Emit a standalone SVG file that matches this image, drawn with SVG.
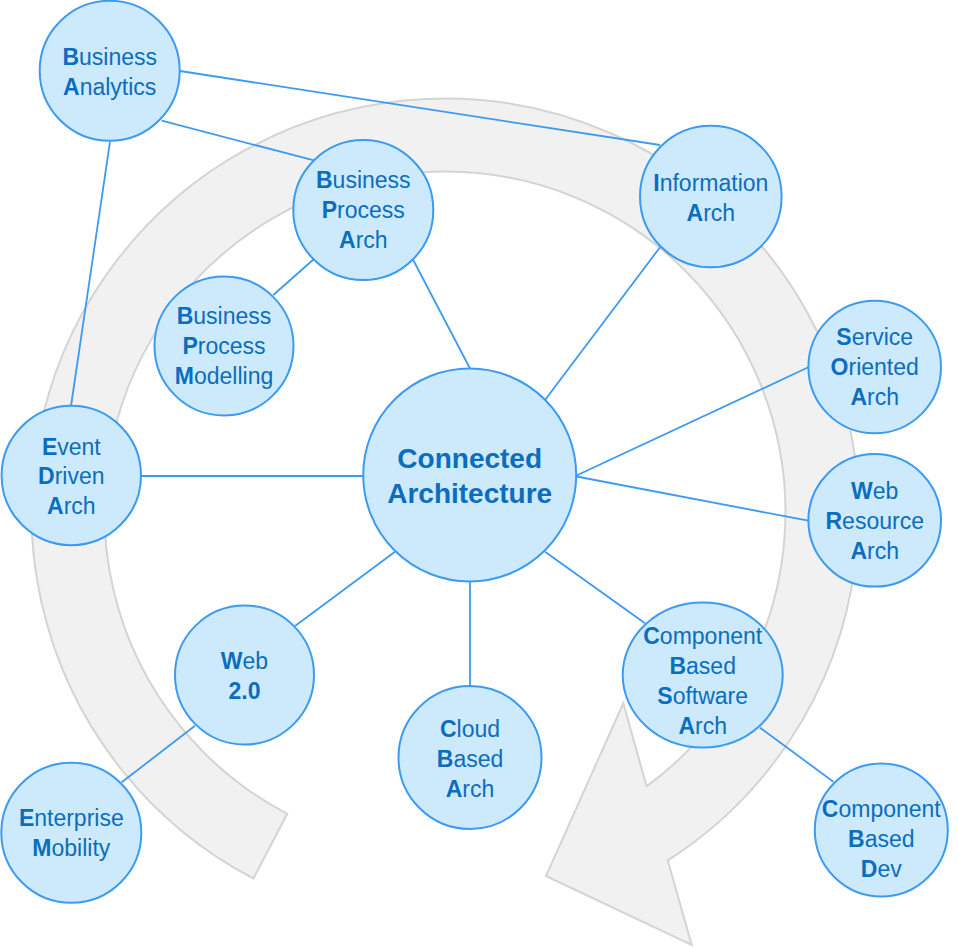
<svg xmlns="http://www.w3.org/2000/svg" width="958" height="947" viewBox="0 0 958 947">
<style>
.ring{fill:#f1f1f1;stroke:#d4d4d4;stroke-width:2}
.edge{stroke:#3d9bef;stroke-width:1.8;fill:none}
.node{fill:#cdeafd;stroke:#3d9bef;stroke-width:2}
.t{font-family:"Liberation Sans",Arial,sans-serif;font-size:23px;fill:#0b6dbd;text-anchor:middle}
.b{font-weight:bold}
.big{font-family:"Liberation Sans",Arial,sans-serif;font-size:28px;font-weight:bold;fill:#0b6dbd;text-anchor:middle}
</style>
<rect width="958" height="947" fill="#ffffff"/>
<path class="ring" d="M 253.4 878.5 A 413.5 413.5 0 1 1 667.8 860.4 L 691.7 945 L 546 876 L 623.3 703.3 L 646.6 786.4 A 340.5 340.5 0 1 0 287.2 813.8 Z"/>
<g id="connectors">
<line class="edge" x1="180" y1="71" x2="660" y2="145"/>
<line class="edge" x1="161.7" y1="120.7" x2="315" y2="160.7"/>
<line class="edge" x1="110" y1="141.7" x2="71" y2="406"/>
<line class="edge" x1="314" y1="259" x2="273.3" y2="295"/>
<line class="edge" x1="412.7" y1="259" x2="470" y2="368.5"/>
<line class="edge" x1="660" y1="247.3" x2="545" y2="400"/>
<line class="edge" x1="808.3" y1="367.3" x2="576.5" y2="475.5"/>
<line class="edge" x1="808.3" y1="520.7" x2="576.5" y2="476.5"/>
<line class="edge" x1="645" y1="623.3" x2="545" y2="551.7"/>
<line class="edge" x1="760" y1="727.7" x2="833.3" y2="781.7"/>
<line class="edge" x1="470" y1="686" x2="470" y2="581.5"/>
<line class="edge" x1="295" y1="626" x2="395" y2="551.7"/>
<line class="edge" x1="195" y1="725.7" x2="121.7" y2="782.3"/>
<line class="edge" x1="141" y1="476" x2="363.5" y2="476"/>
</g>
<g id="business-analytics">
<circle class="node" cx="109.7" cy="70.8" r="70"/>
<text class="t" x="109.7" y="65"><tspan class="b">B</tspan>usiness</text>
<text class="t" x="109.7" y="95"><tspan class="b">A</tspan>nalytics</text>
</g>
<g id="business-process-arch">
<circle class="node" cx="363.3" cy="210" r="70"/>
<text class="t" x="363.3" y="188.3"><tspan class="b">B</tspan>usiness</text>
<text class="t" x="363.3" y="218.3"><tspan class="b">P</tspan>rocess</text>
<text class="t" x="363.3" y="248.3"><tspan class="b">A</tspan>rch</text>
</g>
<g id="business-process-modelling">
<circle class="node" cx="224" cy="346" r="69.5"/>
<text class="t" x="224" y="324"><tspan class="b">B</tspan>usiness</text>
<text class="t" x="224" y="354"><tspan class="b">P</tspan>rocess</text>
<text class="t" x="224" y="384"><tspan class="b">M</tspan>odelling</text>
</g>
<g id="information-arch">
<circle class="node" cx="710.8" cy="196.5" r="70.8"/>
<text class="t" x="710.8" y="190.7"><tspan class="b">I</tspan>nformation</text>
<text class="t" x="710.8" y="220.7"><tspan class="b">A</tspan>rch</text>
</g>
<g id="service-oriented-arch">
<circle class="node" cx="874.7" cy="367" r="66.3"/>
<text class="t" x="874.7" y="345"><tspan class="b">S</tspan>ervice</text>
<text class="t" x="874.7" y="375"><tspan class="b">O</tspan>riented</text>
<text class="t" x="874.7" y="405"><tspan class="b">A</tspan>rch</text>
</g>
<g id="web-resource-arch">
<circle class="node" cx="874.7" cy="520.3" r="66.3"/>
<text class="t" x="874.7" y="499.3"><tspan class="b">W</tspan>eb</text>
<text class="t" x="874.7" y="529.3"><tspan class="b">R</tspan>esource</text>
<text class="t" x="874.7" y="559.3"><tspan class="b">A</tspan>rch</text>
</g>
<g id="component-based-software-arch">
<ellipse class="node" cx="702.7" cy="675" rx="80" ry="72.5"/>
<text class="t" x="702.7" y="644.3"><tspan class="b">C</tspan>omponent</text>
<text class="t" x="702.7" y="674"><tspan class="b">B</tspan>ased</text>
<text class="t" x="702.7" y="704"><tspan class="b">S</tspan>oftware</text>
<text class="t" x="702.7" y="734"><tspan class="b">A</tspan>rch</text>
</g>
<g id="component-based-dev">
<circle class="node" cx="881.3" cy="830" r="66.5"/>
<text class="t" x="881.3" y="816.7"><tspan class="b">C</tspan>omponent</text>
<text class="t" x="881.3" y="846.7"><tspan class="b">B</tspan>ased</text>
<text class="t" x="881.3" y="876.7"><tspan class="b">D</tspan>ev</text>
</g>
<g id="cloud-based-arch">
<circle class="node" cx="470" cy="757.5" r="71.5"/>
<text class="t" x="470" y="737.3"><tspan class="b">C</tspan>loud</text>
<text class="t" x="470" y="767.3"><tspan class="b">B</tspan>ased</text>
<text class="t" x="470" y="797.3"><tspan class="b">A</tspan>rch</text>
</g>
<g id="web-2-0">
<circle class="node" cx="244.5" cy="675" r="69.5"/>
<text class="t" x="244.5" y="669.3"><tspan class="b">W</tspan>eb</text>
<text class="t b" x="244.5" y="699.3">2.0</text>
</g>
<g id="enterprise-mobility">
<circle class="node" cx="71.3" cy="832.7" r="70"/>
<text class="t" x="71.3" y="826"><tspan class="b">E</tspan>nterprise</text>
<text class="t" x="71.3" y="856"><tspan class="b">M</tspan>obility</text>
</g>
<g id="event-driven-arch">
<circle class="node" cx="71.3" cy="475.5" r="69.7"/>
<text class="t" x="71.3" y="455"><tspan class="b">E</tspan>vent</text>
<text class="t" x="71.3" y="484.3"><tspan class="b">D</tspan>riven</text>
<text class="t" x="71.3" y="514.3"><tspan class="b">A</tspan>rch</text>
</g>
<g id="connected-architecture">
<circle class="node" cx="469.7" cy="475" r="106.5"/>
<text class="big" x="469.7" y="468">Connected</text>
<text class="big" x="469.7" y="503">Architecture</text>
</g>
</svg>
